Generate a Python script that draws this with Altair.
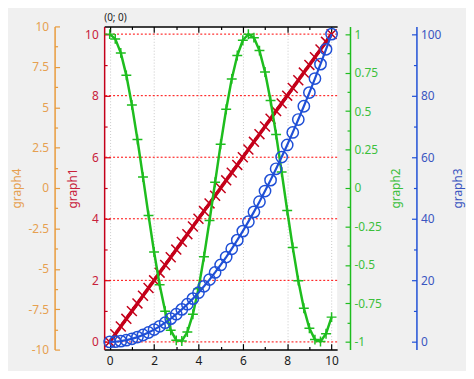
import altair as alt
import pandas as pd

# ---- data ----
x_vals = [0, 0.25, 0.5, 0.75, 1, 1.25, 1.5, 1.75, 2, 2.25, 2.5, 2.75, 3, 3.25, 3.5, 3.75,
          4, 4.25, 4.5, 4.75, 5, 5.25, 5.5, 5.75, 6, 6.25, 6.5, 6.75, 7, 7.25, 7.5, 7.75,
          8, 8.25, 8.5, 8.75, 9, 9.25, 9.5, 9.75, 10]
graph1 = [0, 0.25, 0.5, 0.75, 1, 1.25, 1.5, 1.75, 2, 2.25, 2.5, 2.75, 3, 3.25, 3.5, 3.75,
          4, 4.25, 4.5, 4.75, 5, 5.25, 5.5, 5.75, 6, 6.25, 6.5, 6.75, 7, 7.25, 7.5, 7.75,
          8, 8.25, 8.5, 8.75, 9, 9.25, 9.5, 9.75, 10]
graph2 = [1.0, 0.969, 0.878, 0.732, 0.540, 0.315, 0.071, -0.178, -0.416, -0.628, -0.801,
          -0.924, -0.990, -0.994, -0.936, -0.820, -0.654, -0.446, -0.211, 0.037, 0.284,
          0.512, 0.709, 0.861, 0.960, 0.999, 0.977, 0.893, 0.754, 0.569, 0.347, 0.104,
          -0.146, -0.386, -0.602, -0.781, -0.911, -0.985, -0.997, -0.947, -0.839]
graph3 = [0, 0.0625, 0.25, 0.5625, 1, 1.5625, 2.25, 3.0625, 4, 5.0625, 6.25, 7.5625, 9,
          10.5625, 12.25, 14.0625, 16, 18.0625, 20.25, 22.5625, 25, 27.5625, 30.25, 33.0625,
          36, 39.0625, 42.25, 45.5625, 49, 52.5625, 56.25, 60.0625, 64, 68.0625, 72.25,
          76.5625, 81, 85.5625, 90.25, 95.0625, 100]

x_major = [0, 2, 4, 6, 8, 10]
x_minor = [1, 3, 5, 7, 9]
g1_major = [0, 2, 4, 6, 8, 10]
g1_minor = [1, 3, 5, 7, 9]
g2_major = [-1, -0.75, -0.5, -0.25, 0, 0.25, 0.5, 0.75, 1]
g2_minor = [-0.875, -0.625, -0.375, -0.125, 0.125, 0.375, 0.625, 0.875]
g3_major = [0, 20, 40, 60, 80, 100]
g3_minor = [10, 30, 50, 70, 90]
g4_major = [-10, -7.5, -5, -2.5, 0, 2.5, 5, 7.5, 10]
g4_minor = [-8.75, -6.25, -3.75, -1.25, 1.25, 3.75, 6.25, 8.75]

x_domain = [-0.25, 10.25]
g1_domain = [-0.25, 10.25]
g2_domain = [-1.05, 1.05]
g3_domain = [-2.5, 102.5]
g4_domain = [-10, 10]

# ---- styling ----
W, H = 235, 326
FONT = "Noto Sans"
RED = "#c4001a"
RED_LBL = "#c8203a"
GRID_RED = "#ff0000"
GREEN = "#1ebd1e"
GREEN_LBL = "#3cbf3c"
BLUE = "#1f4fd6"
BLUE_LBL = "#3a55c0"
ORANGE = "#e89a3c"
ORANGE_LBL = "#e6a050"
XSHAPE = "M-1,-1L1,1M-1,1L1,-1"
PLUS = "M-1,0L1,0M0,-1L0,1"
LBL = "'' + datum.value"

df = pd.DataFrame({"x": x_vals, "g1": graph1, "g2": graph2, "g3": graph3})
grid_df = pd.DataFrame({"g1": g1_major})

xscale = alt.Scale(domain=x_domain, nice=False, zero=False)


def yscale(dom):
    return alt.Scale(domain=dom, nice=False, zero=False)


def label_axis(orient, values, color, lblcolor, title, title_x, offset=0, pad=6):
    return alt.Axis(orient=orient, values=values, ticks=False, offset=offset,
                    domainColor=color, domainWidth=1.5, labelColor=lblcolor, labelExpr=LBL,
                    labelPadding=pad, labelFontSize=12, labelFont=FONT, labelFlush=False,
                    labelOverlap=False, title=title, titleColor=lblcolor, titleFont=FONT,
                    titleFontSize=12, titleFontWeight="normal", titleAngle=270,
                    titleBaseline="middle", titleX=title_x, titleY=H / 2, grid=False)


def tick_axis(orient, values, size, color, offset=0):
    return alt.Axis(orient=orient, values=values, labels=False, domain=False, grid=False,
                    ticks=True, tickSize=alt.ExprRef(expr=str(-size)), tickColor=color,
                    tickWidth=1.2, offset=offset, title=None)


def dummy(field, dom, yaxis, xaxis):
    return alt.Chart(df).mark_point(opacity=0).encode(
        x=alt.X("x:Q", scale=xscale, axis=xaxis),
        y=alt.Y(f"{field}:Q", scale=yscale(dom), axis=yaxis),
    )


# red dotted horizontal grid lines at the graph1 tick values
red_grid = alt.Chart(grid_df).mark_rule(
    color=GRID_RED, strokeDash=[2, 2], strokeWidth=1
).encode(
    y=alt.Y("g1:Q", scale=yscale(g1_domain), axis=None),
)

red = alt.Chart(df).mark_line(
    color=RED, strokeWidth=3.5,
    point=alt.OverlayMarkDef(shape=XSHAPE, size=100, filled=False, color=RED, strokeWidth=1.5),
).encode(
    x=alt.X("x:Q", scale=xscale, axis=alt.Axis(
        orient="bottom", values=x_major, ticks=False, domainColor="#000000", domainWidth=1.5,
        labelColor="#1a1a1a", labelExpr=LBL, labelPadding=6, labelFontSize=12, labelFont=FONT,
        labelFlush=False, grid=True, gridColor="#c8c8c8", gridDash=[1, 2], gridWidth=1,
        title=None)),
    y=alt.Y("g1:Q", scale=yscale(g1_domain),
            axis=label_axis("left", g1_major, RED, RED_LBL, "graph1", -32)),
)

green = alt.Chart(df).mark_line(
    color=GREEN, strokeWidth=2.5,
    point=alt.OverlayMarkDef(shape=PLUS, size=100, filled=False, color=GREEN, strokeWidth=1.5),
).encode(
    x=alt.X("x:Q", scale=xscale, axis=alt.Axis(
        orient="top", labels=False, ticks=False, grid=False, domainColor="#000000",
        domainWidth=1.5, title=None)),
    y=alt.Y("g2:Q", scale=yscale(g2_domain),
            axis=label_axis("right", g2_major, GREEN, GREEN_LBL, "graph2", 46, offset=13,
                            pad=4)),
)

blue = alt.Chart(df).mark_line(
    color=BLUE, strokeWidth=2.2,
    point=alt.OverlayMarkDef(shape="circle", size=130, filled=False, color=BLUE,
                             strokeWidth=1.5),
).encode(
    x=alt.X("x:Q", scale=xscale, axis=tick_axis("bottom", x_major, 6, "#000000")),
    y=alt.Y("g3:Q", scale=yscale(g3_domain),
            axis=label_axis("right", g3_major, BLUE, BLUE_LBL, "graph3", 41, offset=80,
                            pad=4)),
)

orange = dummy("g1", g4_domain,
               label_axis("left", g4_major, ORANGE, ORANGE_LBL, "graph4", -38, offset=50),
               tick_axis("bottom", x_minor, 3, "#000000"))

layers = [
    red_grid,
    orange,
    red,
    green,
    blue,
    dummy("g1", g1_domain, tick_axis("left", g1_major, 6, RED), tick_axis("top", x_major, 6, "#000000")),
    dummy("g1", g1_domain, tick_axis("left", g1_minor, 3, RED), tick_axis("top", x_minor, 3, "#000000")),
    dummy("g2", g2_domain, tick_axis("right", g2_major, 5, GREEN, offset=13), None),
    dummy("g2", g2_domain, tick_axis("right", g2_minor, 3, GREEN, offset=13), None),
    dummy("g3", g3_domain, tick_axis("right", g3_major, 5, BLUE, offset=80), None),
    dummy("g3", g3_domain, tick_axis("right", g3_minor, 3, BLUE, offset=80), None),
    dummy("g1", g4_domain, tick_axis("left", g4_major, 5, ORANGE, offset=50), None),
    dummy("g1", g4_domain, tick_axis("left", g4_minor, 3, ORANGE, offset=50), None),
]

chart = alt.layer(*layers).resolve_scale(y="independent").resolve_axis(
    x="independent", y="independent"
).properties(
    width=W, height=H,
    title=alt.TitleParams("(0; 0)", anchor="start", frame="group", fontSize=10, font=FONT,
                          fontWeight="normal", color="#222222", offset=0, dy=3),
    autosize=alt.AutoSizeParams(type="none"),
    padding={"left": 97, "top": 17, "right": 130, "bottom": 20},
    background="#f0f0f0",
).configure_view(fill="#ffffff", stroke=None)

chart.save("out.html", embed_options={"renderer": "svg", "actions": False})
